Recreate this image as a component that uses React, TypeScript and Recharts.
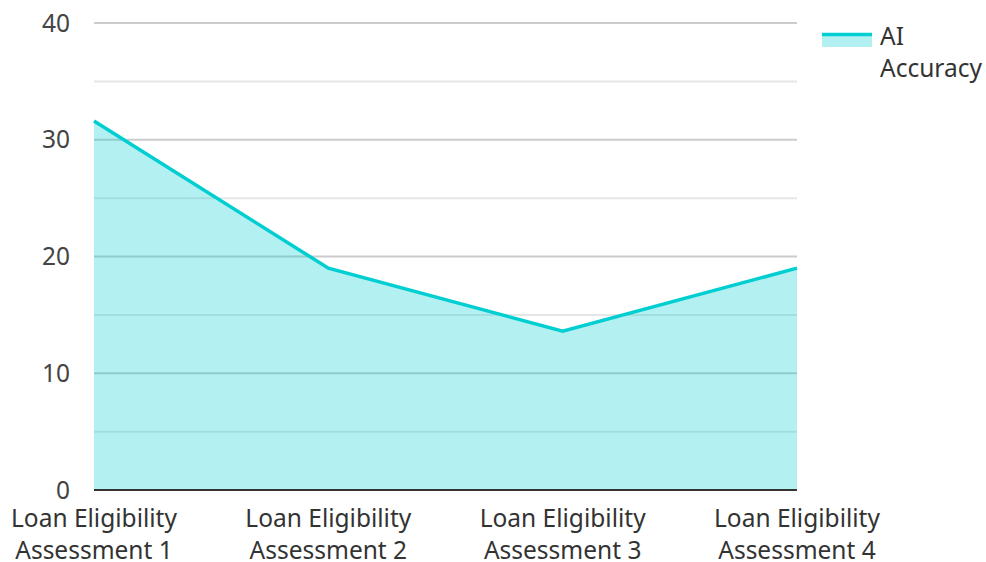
import { AreaChart, Area, XAxis, YAxis, CartesianGrid } from 'recharts';

const categories = [
  'Loan Eligibility Assessment 1',
  'Loan Eligibility Assessment 2',
  'Loan Eligibility Assessment 3',
  'Loan Eligibility Assessment 4',
];
const aiAccuracy = [31.6, 19.0, 13.6, 19.0];
const yTicks = [0, 10, 20, 30, 40];
const minorTicks = [5, 15, 25, 35];

const FONT = '"Noto Sans", "Open Sans", sans-serif';
const TEAL = '#00CED1';

const data = categories.map((c, i) => ({ name: c, acc: aiAccuracy[i] }));

// Split "Loan Eligibility Assessment N" into two lines like the original.
function XTick({ x, y, payload }: any) {
  const words = String(payload.value).split(' ');
  const first = words.slice(0, 2).join(' ');
  const second = words.slice(2).join(' ');
  return (
    <text x={x} y={y} textAnchor="middle" fill="#333" fontSize={24.5} fontFamily={FONT}>
      <tspan x={x} dy={29}>{first}</tspan>
      <tspan x={x} dy={32}>{second}</tspan>
    </text>
  );
}

// Legend drawn as an overlay so it doesn't eat plot width.
function LegendBox() {
  return (
    <div style={{ position: 'absolute', left: 822, top: 20, display: 'flex', alignItems: 'flex-start', fontFamily: FONT, fontSize: 24.5, color: '#333', lineHeight: '32px' }}>
      <svg width={50} height={16} style={{ marginTop: 12, marginRight: 8 }}>
        <rect x={0} y={2} width={50} height={13} fill={TEAL} fillOpacity={0.3} />
        <line x1={0} x2={50} y1={2.5} y2={2.5} stroke={TEAL} strokeWidth={3.5} />
      </svg>
      <div>AI<br />Accuracy</div>
    </div>
  );
}

export default function App() {
  return (
    <div style={{ position: 'absolute', left: 0, top: 0, width: 986, height: 562, background: '#fff' }}>
      <AreaChart width={986} height={562} data={data} margin={{ top: 23, right: 189, left: 0, bottom: 0 }}>
        <CartesianGrid horizontalValues={minorTicks} vertical={false} stroke="#e6e6e6" strokeWidth={2} />
        <CartesianGrid horizontalValues={yTicks} vertical={false} stroke="#cccccc" strokeWidth={2} />
        <XAxis
          dataKey="name"
          height={72}
          interval={0}
          tickLine={false}
          axisLine={{ stroke: '#333', strokeWidth: 2 }}
          tick={<XTick />}
        />
        <YAxis
          width={94}
          domain={[0, 40]}
          ticks={yTicks}
          tickLine={false}
          axisLine={false}
          tickMargin={18}
          tick={{ fill: '#444', fontSize: 24.5, fontFamily: FONT }}
        />
        <Area
          type="linear"
          dataKey="acc"
          name="AI Accuracy"
          stroke={TEAL}
          strokeWidth={3.5}
          fill={TEAL}
          fillOpacity={0.3}
          dot={false}
          activeDot={false}
          isAnimationActive={false}
        />
      </AreaChart>
      <LegendBox />
    </div>
  );
}
